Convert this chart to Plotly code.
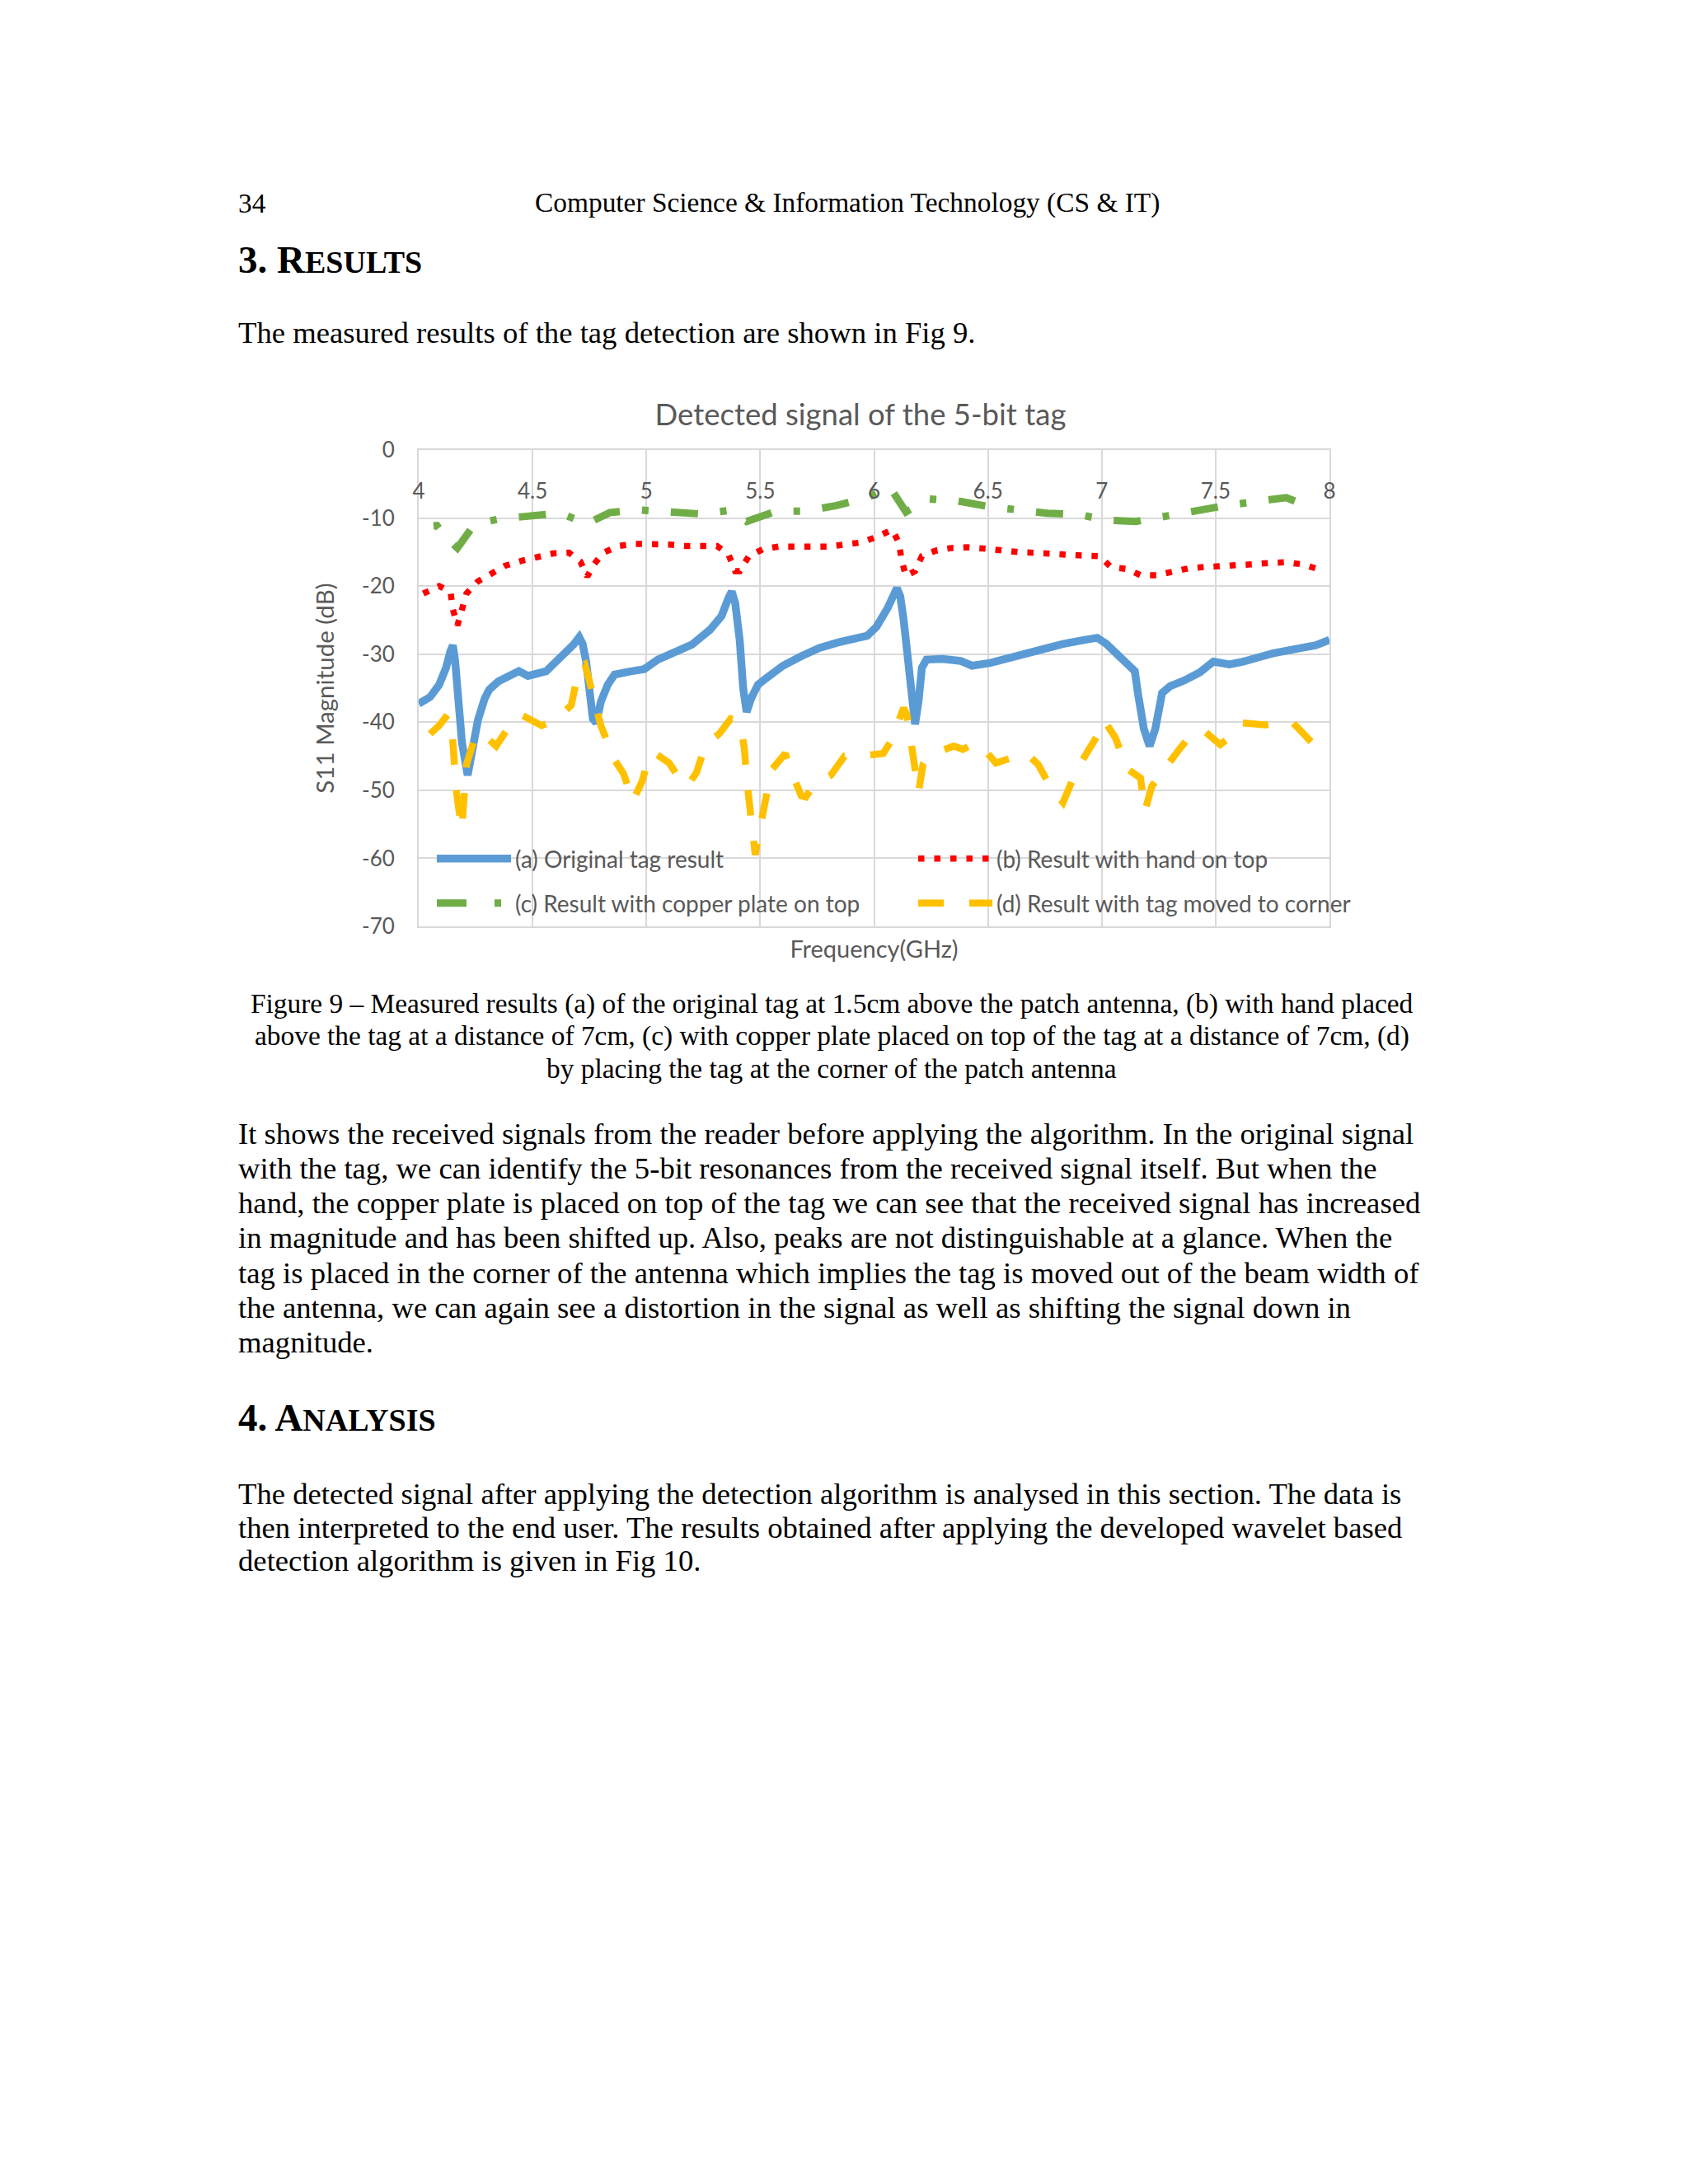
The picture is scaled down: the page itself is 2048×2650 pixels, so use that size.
import plotly.graph_objects as go

# ---------------- data ----------------
blue_f = [4.00, 4.05, 4.09, 4.12, 4.14, 4.15, 4.16, 4.17, 4.19, 4.215, 4.235, 4.26, 4.29, 4.31, 4.35, 4.40,
          4.44, 4.48, 4.52, 4.56, 4.60, 4.64, 4.68, 4.705, 4.72, 4.735, 4.75, 4.765, 4.78, 4.80, 4.83, 4.86,
          4.92, 4.99, 5.05, 5.12, 5.20, 5.28, 5.33, 5.36, 5.375, 5.39, 5.41, 5.425, 5.44, 5.46, 5.49, 5.52,
          5.56, 5.60, 5.68, 5.76, 5.84, 5.92, 5.97, 6.01, 6.06, 6.10, 6.115, 6.13, 6.15, 6.165, 6.18, 6.195,
          6.21, 6.23, 6.30, 6.38, 6.43, 6.51, 6.59, 6.67, 6.75, 6.83, 6.91, 6.98, 7.02, 7.07, 7.12, 7.145,
          7.16, 7.185, 7.21, 7.235, 7.265, 7.30, 7.36, 7.43, 7.49, 7.56, 7.62, 7.69, 7.75, 7.81, 7.88, 7.94, 8.00]
blue_db = [-37.3, -36.3, -34.5, -32.0, -29.5, -28.7, -31.0, -35.7, -43.0, -47.8, -44.0, -39.7, -36.5, -35.2, -34.0, -33.0,
           -32.5, -33.2, -32.7, -32.5, -31.2, -30.0, -28.6, -27.5, -28.5, -31.0, -35.5, -39.5, -40.1, -37.0, -34.5, -33.0,
           -32.6, -32.2, -30.8, -29.9, -28.6, -26.4, -24.4, -21.8, -20.8, -22.5, -28.0, -35.0, -38.5, -36.5, -34.5, -33.7,
           -32.8, -31.7, -30.3, -29.1, -28.3, -27.8, -27.3, -26.0, -23.2, -20.3, -21.5, -25.0, -31.0, -37.0, -40.3, -37.0,
           -32.0, -30.8, -30.7, -31.0, -31.7, -31.3, -30.6, -29.8, -29.1, -28.5, -28.0, -27.6, -28.5, -30.2, -31.6, -32.5,
           -36.0, -41.0, -43.5, -41.0, -35.7, -34.7, -33.9, -32.7, -31.1, -31.5, -31.1, -30.3, -29.9, -29.5, -29.1, -28.7, -27.9]

red_f = [4.02, 4.09, 4.14, 4.15, 4.17, 4.19, 4.21, 4.26, 4.32, 4.38, 4.45, 4.52, 4.59, 4.66, 4.71, 4.74, 4.77,
         4.81, 4.88, 4.95, 5.02, 5.10, 5.17, 5.24, 5.31, 5.36, 5.39, 5.41, 5.45, 5.51, 5.58, 5.65, 5.73, 5.80,
         5.87, 5.94, 6.01, 6.08, 6.11, 6.12, 6.14, 6.18, 6.21, 6.27, 6.34, 6.41, 6.49, 6.56, 6.63, 6.70, 6.77,
         6.84, 6.91, 6.99, 7.04, 7.11, 7.17, 7.24, 7.31, 7.38, 7.45, 7.52, 7.59, 7.66, 7.74, 7.81, 7.88, 7.95]
red_db = [-21.1, -20.0, -20.9, -23.4, -25.8, -23.6, -21.1, -19.3, -18.1, -17.0, -16.3, -15.7, -15.2, -15.1, -16.4, -18.6, -16.8,
          -15.1, -14.1, -13.8, -13.8, -13.9, -14.1, -14.2, -14.1, -15.3, -17.8, -17.8, -15.6, -14.6, -14.2, -14.2, -14.2, -14.2,
          -13.9, -13.6, -12.8, -11.7, -13.7, -16.1, -18.5, -17.8, -15.6, -14.8, -14.4, -14.3, -14.5, -14.8, -15.0, -15.1, -15.3,
          -15.5, -15.5, -15.6, -17.2, -17.5, -18.4, -18.4, -17.8, -17.4, -17.2, -17.0, -17.0, -16.8, -16.6, -16.5, -16.8, -17.5]

green_f = [4.00, 4.08, 4.12, 4.17, 4.23, 4.30, 4.36, 4.50, 4.62, 4.74, 4.84, 4.96, 5.10, 5.24, 5.36, 5.44, 5.57,
           5.69, 5.83, 5.97, 6.07, 6.14, 6.24, 6.37, 6.50, 6.64, 6.76, 6.90, 7.02, 7.15, 7.28, 7.41, 7.54, 7.67,
           7.81, 7.93]
green_db = [-11.3, -11.1, -12.8, -14.4, -11.6, -10.5, -10.1, -9.6, -9.3, -10.8, -9.2, -8.8, -9.1, -9.4, -8.9, -10.5, -9.0,
            -9.0, -8.2, -7.0, -5.5, -9.1, -7.2, -7.5, -8.3, -8.8, -9.3, -9.5, -10.3, -10.5, -9.7, -8.8, -8.2, -7.6,
            -7.0, -8.6]

yellow_f = [4.05, 4.09, 4.127, 4.14, 4.15, 4.157, 4.165, 4.175, 4.19, 4.195, 4.20, 4.21, 4.24, 4.265, 4.30, 4.34,
            4.37, 4.41, 4.45, 4.49, 4.54, 4.60, 4.67, 4.705, 4.73, 4.75, 4.77, 4.80, 4.83, 4.85, 4.90, 4.92, 4.94,
            4.98, 5.00, 5.03, 5.10, 5.14, 5.18, 5.22, 5.26, 5.32, 5.37, 5.41, 5.43, 5.44, 5.455, 5.47, 5.478, 5.49,
            5.51, 5.53, 5.55, 5.60, 5.61, 5.635, 5.68, 5.70, 5.74, 5.81, 5.87, 5.93, 6.04, 6.07, 6.09, 6.13, 6.145,
            6.16, 6.18, 6.195, 6.215, 6.24, 6.28, 6.35, 6.39, 6.43, 6.46, 6.535, 6.58, 6.63, 6.67, 6.72, 6.76, 6.78,
            6.83, 6.86, 6.89, 6.94, 6.98, 7.01, 7.06, 7.09, 7.10, 7.17, 7.19, 7.22, 7.25, 7.28, 7.34, 7.40, 7.45,
            7.52, 7.57, 7.61, 7.72, 7.78, 7.84, 7.92, 7.95]
yellow_db = [-41.7, -40.5, -38.9, -40.5, -42.9, -46.8, -50.0, -52.5, -55.8, -53.0, -50.2, -46.2, -43.0, -41.5, -42.3, -43.5,
             -42.0, -40.0, -38.9, -39.7, -40.5, -39.7, -37.5, -32.0, -31.5, -34.0, -36.9, -40.5, -43.0, -45.0, -47.6, -50.0, -51.6,
             -48.8, -46.5, -44.4, -46.0, -48.0, -49.4, -47.4, -43.3, -41.7, -39.5, -39.9, -43.8, -48.2, -52.2, -56.0, -59.5, -57.0,
             -54.0, -50.5, -47.0, -45.0, -44.6, -47.2, -50.8, -51.0, -49.0, -47.8, -45.0, -45.0, -44.6, -43.0, -41.3, -37.9, -39.0,
             -42.3, -46.6, -50.3, -46.2, -45.0, -44.4, -43.5, -44.0, -43.3, -43.1, -46.0, -45.5, -45.0, -44.6, -46.2, -48.5, -49.8,
             -51.8, -49.5, -47.0, -44.2, -42.0, -39.7, -42.3, -45.0, -46.6, -48.2, -53.0, -49.4, -48.0, -46.6, -44.0, -41.5, -41.3,
             -43.3, -42.0, -40.1, -40.4, -40.0, -40.1, -42.9, -44.0]

series_names = ["(a) Original tag result", "(b) Result with hand on top",
                "(c) Result with copper plate on top", "(d) Result with tag moved to corner"]
x_tick_vals = [4, 4.5, 5, 5.5, 6, 6.5, 7, 7.5, 8]
x_tick_text = ["4", "4.5", "5", "5.5", "6", "6.5", "7", "7.5", "8"]
y_tick_vals = [0, -10, -20, -30, -40, -50, -60, -70]
y_tick_text = ["0", "-10", "-20", "-30", "-40", "-50", "-60", "-70"]

# ---------------- layout constants (reference pixel coordinates) ----------------
OFF = 8                      # browser body margin
W, H = 2048 - 2 * OFF, 2650 - 2 * OFF
PL, PR, PT, PB = 508, 1613, 546, 1124
CHART_FONT = "Lato, Carlito, Calibri, sans-serif"
SERIF = "Liberation Serif, Times New Roman, serif"
GRAY = "#595959"
GRID = "#D9D9D9"


def fx(X):
    return (X - PL) / (PR - PL)


def fy(Y):
    return (PB - Y) / (PB - PT)


fig = go.Figure()
fig.add_trace(go.Scatter(x=blue_f, y=blue_db, mode="lines", name=series_names[0], legend="legend",
                         line=dict(color="#5B9BD5", width=9.5)))
fig.add_trace(go.Scatter(x=red_f, y=red_db, mode="lines", name=series_names[1], legend="legend2",
                         line=dict(color="#FF0000", width=7.5, dash="7.5px,12px")))
fig.add_trace(go.Scatter(x=green_f, y=green_db, mode="lines", name=series_names[2], showlegend=False,
                         line=dict(color="#70AD47", width=9, dash="0px,18px,8px,27px,33px,9px")))
fig.add_trace(go.Scatter(x=[None], y=[None], mode="lines", name=series_names[2], legend="legend3",
                         line=dict(color="#70AD47", width=9, dash="36px,34px,8px,34px")))
fig.add_trace(go.Scatter(x=yellow_f, y=yellow_db, mode="lines", name=series_names[3], legend="legend4",
                         line=dict(color="#FFC000", width=8.5, dash="31px,31px")))

leg_common = dict(font=dict(family=CHART_FONT, size=28, color=GRAY), bgcolor="rgba(0,0,0,0)",
                  itemwidth=90, xanchor="left", yanchor="middle", xref="paper", yref="paper")
fig.update_layout(
    legend=dict(x=fx(525), y=fy(1042), **leg_common),
    legend2=dict(x=fx(1109), y=fy(1042), **leg_common),
    legend3=dict(x=fx(525), y=fy(1096), **leg_common),
    legend4=dict(x=fx(1109), y=fy(1096), **leg_common),
)

fig.update_layout(
    width=W, height=H,
    margin=dict(l=PL - OFF, r=W - (PR - OFF), t=PT - OFF, b=H - (PB - OFF), autoexpand=False),
    paper_bgcolor="white", plot_bgcolor="white",
    title=dict(text="Detected signal of the 5-bit tag", x=(1044 - OFF) / W, xanchor="center",
               y=1 - (503 - OFF) / H, yanchor="middle", yref="container",
               font=dict(family=CHART_FONT, size=36.5, color=GRAY)),
    xaxis=dict(range=[4, 8], side="bottom", showticklabels=False, ticks="",
               showgrid=True, gridcolor=GRID, gridwidth=2, tickvals=x_tick_vals,
               showline=True, linecolor=GRID, linewidth=2, mirror=True, zeroline=False,
               title=dict(text="Frequency(GHz)", standoff=17,
                          font=dict(family=CHART_FONT, size=29, color=GRAY))),
    xaxis2=dict(range=[4, 8], overlaying="x", matches="x", side="top", anchor="free",
                position=fy(610), tickvals=x_tick_vals, ticktext=x_tick_text, ticks="",
                showgrid=False, showline=False, zeroline=False,
                tickfont=dict(family=CHART_FONT, size=26, color=GRAY)),
    yaxis=dict(range=[-70, 0], tickvals=y_tick_vals, ticktext=y_tick_text, showgrid=True,
               gridcolor=GRID, gridwidth=2, showline=True, linecolor=GRID, linewidth=2, mirror=True,
               zeroline=False, ticks="", ticklabelstandoff=22,
               tickfont=dict(family=CHART_FONT, size=26, color=GRAY),
               title=dict(text="S11 Magnitude (dB)", standoff=25,
                          font=dict(family=CHART_FONT, size=29.5, color=GRAY))),
)
fig.add_trace(go.Scatter(x=[4, 8], y=[None, None], xaxis="x2", showlegend=False, hoverinfo="skip"))

# ---------------- page text ----------------
def text(X, Y, s, size, anchor="left", bold=False):
    if bold:
        s = "<b>" + s + "</b>"
    fig.add_annotation(x=fx(X), y=fy(Y), xref="paper", yref="paper", text=s, showarrow=False,
                       xanchor=anchor, yanchor="middle", align=anchor,
                       font=dict(family=SERIF, size=size, color="black"))

text(287, 246, "34", 33.4)
text(647, 246, "Computer Science &amp; Information Technology (CS &amp; IT)", 33.4)
text(287, 315, "3. R<span style='font-size:38px'>ESULTS</span>", 47, bold=True)
text(287, 403, "The measured results of the tag detection are shown in Fig 9.", 36.7)

caption = ["Figure 9 \u2013 Measured results (a) of the original tag at 1.5cm above the patch antenna, (b) with hand placed",
           "above the tag at a distance of 7cm, (c) with copper plate placed on top of the tag at a distance of 7cm, (d)",
           "by placing the tag at the corner of the patch antenna"]
for i, line in enumerate(caption):
    text(1009, [1218, 1257, 1296][i], line, 33.4, anchor="center")

para2 = ["It shows the received signals from the reader before applying the algorithm. In the original signal",
         "with the tag, we can identify the 5-bit resonances from the received signal itself. But when the",
         "hand, the copper plate is placed on top of the tag we can see that the received signal has increased",
         "in magnitude and has been shifted up. Also, peaks are not distinguishable at a glance. When the",
         "tag is placed in the corner of the antenna which implies the tag is moved out of the beam width of",
         "the antenna, we can again see a distortion in the signal as well as shifting the signal down in",
         "magnitude."]
for i, line in enumerate(para2):
    text(287, 1375 + i * 42.3, line, 36.7)

text(287, 1720, "4. A<span style='font-size:38px'>NALYSIS</span>", 47, bold=True)
para3 = ["The detected signal after applying the detection algorithm is analysed in this section. The data is",
         "then interpreted to the end user. The results obtained after applying the developed wavelet based",
         "detection algorithm is given in Fig 10."]
for i, line in enumerate(para3):
    text(287, 1812 + i * 41, line, 36.7)

fig.write_html("out.html")
